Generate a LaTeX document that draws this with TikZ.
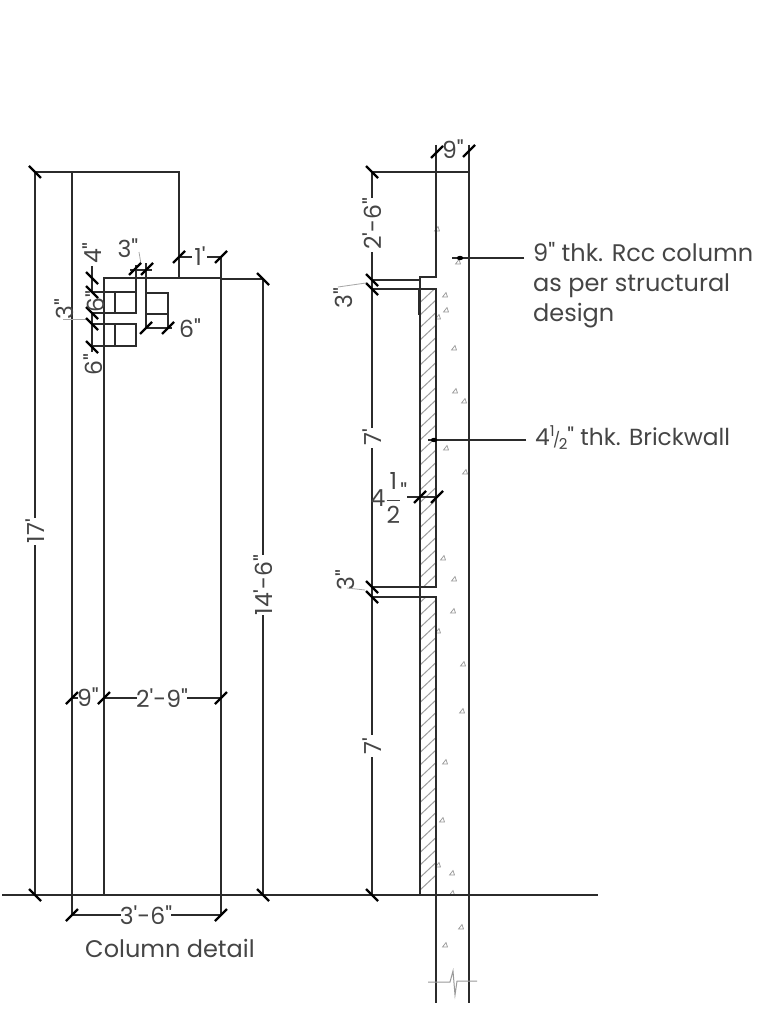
\documentclass[tikz,border=0pt]{standalone}
\usepackage{fontspec}
\newfontfamily\gth{Poppins}
\definecolor{ink}{gray}{0.17}
\definecolor{txt}{gray}{0.27}
\definecolor{hatchc}{gray}{0.62}
\definecolor{speck}{gray}{0.6}
\newcommand\tkV[1]{\draw[tickmark] (#1)+(-6,-6)--+(6,6);}
\newcommand\tkH[1]{\draw[tickmark] (#1)+(-6,6)--+(6,-6);}
\newcommand\spk[1]{\draw[specks] (#1)+(-2.5,2)--+(2.5,2)--+(1,-2.5)--cycle;}
\begin{document}
\begin{tikzpicture}[x=1pt,y=-1pt,
  wall/.style={line width=1.8pt,draw=ink},
  dimline/.style={line width=1.8pt,draw=ink},
  tickmark/.style={line width=2.4pt,draw=black},
  leader/.style={line width=0.8pt,draw=gray!70},
  hatchline/.style={line width=1pt,draw=hatchc},
  specks/.style={line width=0.7pt,draw=speck},
  lbl/.style={font=\gth\fontsize{23.5}{26}\selectfont,text=txt,inner sep=0pt},
  lblr/.style={lbl,rotate=90},
  note/.style={font=\gth\fontsize{24}{30}\selectfont,text=txt,inner sep=0pt,anchor=base west},
  ]
\useasboundingbox (0,0) rectangle (768,1024);
\fill[white] (0,0) rectangle (768,1024);

% hatching of the brick wall
\begin{scope}
\clip (420,289) rectangle (436,586) (420,597) rectangle (436,895);
\foreach \y in {290,302.5,...,900} \draw[hatchline] (420,\y)--(436,\y-15);
\end{scope}

% concrete specks
\foreach \a/\b in {445/295,446/310,438/317,454/348,455/391,464/401,446/448,465/472,
  443/558,454/579,453/611,438/631,463/664,462/711,445/762,442/820,452/873,438/865,452/893,461/927,445/945,458/262,437/229}
  {\spk{\a,\b}}

% ground
\draw[dimline] (2,895)--(598,895);

% left elevation
\draw[wall] (72,915)--(72,172);
\draw[wall] (35,172)--(179,172)--(179,278);
\draw[wall] (104,895)--(104,278)--(221,278);
\draw[wall] (221,257)--(221,915);
\draw[wall] (221,279)--(263,279)--(263,555);
\draw[wall] (263,615)--(263,895);
\draw[wall] (35,172)--(35,518) (35,545)--(35,895);

% brick courses
\draw[wall] (136,265)--(136,313)--(93,313) (93,292)--(136,292) (115,292)--(115,313);
\draw[wall] (93,324)--(136,324)--(136,346)--(93,346) (115,324)--(115,346);
\draw[wall] (146,263)--(146,328)--(172,328) (146,293)--(168,293)--(168,328) (146,314)--(168,314);
\draw[line width=2.4pt,draw=ink] (104,278)--(117,278);

% left small dimensions
\draw[dimline] (92,266)--(92,293) (92,312)--(92,352);
\draw[dimline] (130,270)--(152,270);
\draw[leader] (139,252)--(141,264);
\draw[leader] (63,319)--(88,319);
\tkV{92,278}\tkV{92,292}\tkV{92,313}\tkV{92,324}\tkV{92,347}
\tkH{135,269}\tkH{147,269}
\tkH{146,328}\tkH{168,328}
\node[lblr] (t4) at (92,253) {4"};
\node[lblr] (t6a) at (95,302) {6"};
\node[lblr] (t3a) at (64,309) {3"};
\node[lblr] (t6b) at (93,365) {6"};
\node[lbl] (t3b) at (128,248) {3"};
\node[lbl] (t6c) at (190,328) {6"};

% 1'
\draw[dimline] (179,257)--(192,257) (207,257)--(221,257);
\tkH{179,257}\tkH{221,257}
\node[lbl] (t1) at (200,256) {1'};

% overall dimensions
\tkV{35,172}\tkV{35,895}\tkV{263,279}\tkV{263,895}
\node[lblr] (t17) at (35,531) {17'};
\node[lblr] (t146) at (263,585) {14'-6"};

% 9" and 2'-9"
\draw[dimline] (104,698)--(137,698) (187,698)--(221,698) (72,698)--(78,698);
\tkH{72,698}\tkH{104,698}\tkH{221,698}
\node[lbl] (t9) at (88,697) {9"};
\node[lbl] (t29) at (162,698) {2'-9"};

% 3'-6"
\draw[dimline] (72,915)--(121,915) (171,915)--(221,915);
\tkH{72,915}\tkH{221,915}
\node[lbl] (t36) at (146,915) {3'-6"};
\node[lbl,font=\gth\fontsize{24}{26}\selectfont] (tcd) at (170,948) {Column detail};

% right section
\draw[wall] (372,172)--(469,172);
\draw[wall] (436,145)--(436,277)--(420,277)--(420,895);
\draw[wall] (372,280)--(420,280);
\draw[wall] (372,289)--(436,289)--(436,587)--(372,587);
\draw[wall] (372,597)--(436,597)--(436,1003);
\draw[wall] (469,145)--(469,1003);
\draw[line width=2.4pt,draw=ink] (419,290)--(419,315);
\draw[dimline] (372,172)--(372,198) (372,252)--(372,428) (372,448)--(372,735) (372,757)--(372,895);
\tkV{372,172}\tkV{372,280}\tkV{372,289}\tkV{372,587}\tkV{372,597}\tkV{372,895}
\tkH{437,152}\tkH{469,151}
\node[lbl] (t9b) at (453,149) {9"};
\node[lblr] (t26) at (372,224) {2'-6"};
\node[lblr] (t3c) at (343,298) {3"};
\node[lblr] (t3d) at (345,580) {3"};
\node[lblr] (t7a) at (372,437) {7'};
\node[lblr] (t7b) at (372,746) {7'};
\draw[leader] (338,287)--(366,283);
\draw[leader] (347,588)--(365,590);

% 4 1/2
\draw[dimline] (407,497)--(437,497) (436,497)--(436,507);
\tkH{420,497}\tkH{437,497}
\node[lbl] (t45) at (389,498) {4$\displaystyle\frac{\hbox{\gth 1}}{\hbox{\gth 2}}$\kern-1pt\raisebox{.35ex}{"}};

% leaders with notes
\coordinate (lead1) at (524,258);
\coordinate (dot1) at (460,258);
\coordinate (end1) at (452,258);
\coordinate (lead2) at (526,440);
\coordinate (dot2) at (434,440);
\coordinate (end2) at (428,440);
\draw[dimline] (lead1)--(end1);
\draw[dimline] (lead2)--(end2);
\fill[black] (dot1) ellipse (3.2 and 2.2);
\fill[black] (dot2) ellipse (3.2 and 2.2);
\node[note] (n1) at (533,261) {9" thk. Rcc column};
\node[note] (n2) at (533,291) {as per structural};
\node[note] (n3) at (533,321) {design};
\node[note,font=\gth\fontsize{23.3}{30}\selectfont] (n4) at (535,445) {4{\fontsize{15}{15}\selectfont\raisebox{1ex}{1}\kern-.1em/\kern-.1em\raisebox{-.5ex}{2}}" thk. Brickwall};

% break symbol
\coordinate (b0) at (428,982);
\coordinate (b1) at (450,982);
\coordinate (b2) at (453,971);
\coordinate (b3) at (455,995);
\coordinate (b4) at (457,981);
\coordinate (b5) at (477,981);
\draw[line width=1pt,draw=gray!80] (b0)--(b1)--(b2)--(b3)--(b4)--(b5);
\end{tikzpicture}
\end{document}
